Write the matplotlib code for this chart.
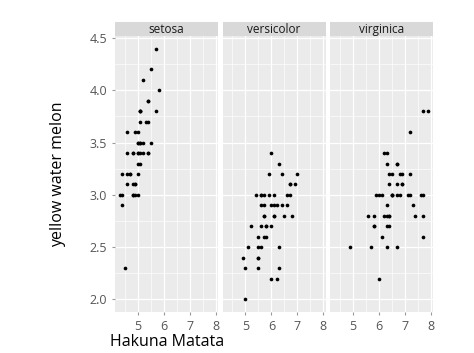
import numpy as np
import matplotlib
matplotlib.use("Agg")
import matplotlib.pyplot as plt

# iris sepal measurements, per species
species = ["setosa", "versicolor", "virginica"]
setosa_len = [5.1, 4.9, 4.7, 4.6, 5.0, 5.4, 4.6, 5.0, 4.4, 4.9, 5.4, 4.8, 4.8, 4.3, 5.8, 5.7, 5.4, 5.1, 5.7, 5.1,
              5.4, 5.1, 4.6, 5.1, 4.8, 5.0, 5.0, 5.2, 5.2, 4.7, 4.8, 5.4, 5.2, 5.5, 4.9, 5.0, 5.5, 4.9, 4.4, 5.1,
              5.0, 4.5, 4.4, 5.0, 5.1, 4.8, 5.1, 4.6, 5.3, 5.0]
setosa_wid = [3.5, 3.0, 3.2, 3.1, 3.6, 3.9, 3.4, 3.4, 2.9, 3.1, 3.7, 3.4, 3.0, 3.0, 4.0, 4.4, 3.9, 3.5, 3.8, 3.8,
              3.4, 3.7, 3.6, 3.3, 3.4, 3.0, 3.4, 3.5, 3.4, 3.2, 3.1, 3.4, 4.1, 4.2, 3.1, 3.2, 3.5, 3.6, 3.0, 3.4,
              3.5, 2.3, 3.2, 3.5, 3.8, 3.0, 3.8, 3.2, 3.7, 3.3]
versicolor_len = [7.0, 6.4, 6.9, 5.5, 6.5, 5.7, 6.3, 4.9, 6.6, 5.2, 5.0, 5.9, 6.0, 6.1, 5.6, 6.7, 5.6, 5.8, 6.2, 5.6,
                  5.9, 6.1, 6.3, 6.1, 6.4, 6.6, 6.8, 6.7, 6.0, 5.7, 5.5, 5.5, 5.8, 6.0, 5.4, 6.0, 6.7, 6.3, 5.6, 5.5,
                  5.5, 6.1, 5.8, 5.0, 5.6, 5.7, 5.7, 6.2, 5.1, 5.7]
versicolor_wid = [3.2, 3.2, 3.1, 2.3, 2.8, 2.8, 3.3, 2.4, 2.9, 2.7, 2.0, 3.0, 2.2, 2.9, 2.9, 3.1, 3.0, 2.7, 2.2, 2.5,
                  3.2, 2.8, 2.5, 2.8, 2.9, 3.0, 2.8, 3.0, 2.9, 2.6, 2.4, 2.4, 2.7, 2.7, 3.0, 3.4, 3.1, 2.3, 3.0, 2.5,
                  2.6, 3.0, 2.6, 2.3, 2.7, 3.0, 2.9, 2.9, 2.5, 2.8]
virginica_len = [6.3, 5.8, 7.1, 6.3, 6.5, 7.6, 4.9, 7.3, 6.7, 7.2, 6.5, 6.4, 6.8, 5.7, 5.8, 6.4, 6.5, 7.7, 7.7, 6.0,
                 6.9, 5.6, 7.7, 6.3, 6.7, 7.2, 6.2, 6.1, 6.4, 7.2, 7.4, 7.9, 6.4, 6.3, 6.1, 7.7, 6.3, 6.4, 6.0, 6.9,
                 6.7, 6.9, 5.8, 6.8, 6.7, 6.7, 6.3, 6.5, 6.2, 5.9]
virginica_wid = [3.3, 2.7, 3.0, 2.9, 3.0, 3.0, 2.5, 2.9, 2.5, 3.6, 3.2, 2.7, 3.0, 2.5, 2.8, 3.2, 3.0, 3.8, 2.6, 2.2,
                 3.2, 2.8, 2.8, 2.7, 3.3, 3.2, 2.8, 3.0, 2.8, 3.0, 2.8, 3.8, 2.8, 2.8, 2.6, 3.0, 3.4, 3.1, 3.0, 3.1,
                 3.1, 3.1, 2.7, 3.2, 3.3, 3.0, 2.5, 3.0, 3.4, 3.0]
x_ticks = [5, 6, 7, 8]
y_ticks = [2.0, 2.5, 3.0, 3.5, 4.0, 4.5]

data = [(setosa_len, setosa_wid), (versicolor_len, versicolor_wid), (virginica_len, virginica_wid)]

W, H = 474, 353
plt.rcParams['font.family'] = ['Open Sans', 'DejaVu Sans']
fig = plt.figure(figsize=(W / 100, H / 100), dpi=100)

left0, pw, gap = 115, 103, 4.5
top_strip, strip_h, bottom = 22, 14, 312

for i, (name, (xs, ys)) in enumerate(zip(species, data)):
    l = left0 + i * (pw + gap)
    ax = fig.add_axes([l / W, 1 - bottom / H, pw / W, (bottom - top_strip - strip_h) / H])
    ax.set_facecolor('#EBEBEB')
    ax.scatter(xs, ys, s=7, color='black', zorder=3, linewidths=0)
    ax.set_xlim(4.12, 8.08)
    ax.set_ylim(1.88, 4.52)
    ax.set_xticks(x_ticks)
    ax.set_yticks(y_ticks)
    ax.set_xticks([4.5, 5.5, 6.5, 7.5], minor=True)
    ax.set_yticks([2.25, 2.75, 3.25, 3.75, 4.25], minor=True)
    ax.grid(which='major', color='white', lw=0.9)
    ax.grid(which='minor', color='white', lw=0.45)
    ax.set_axisbelow(True)
    for s in ax.spines.values():
        s.set_visible(False)
    ax.tick_params(which='major', length=2.5, color='#999999', labelcolor='#555555', labelsize=9, pad=3)
    ax.tick_params(which='minor', length=0)
    if i > 0:
        ax.tick_params(axis='y', labelleft=False, length=0)
    else:
        ax.set_yticklabels([f"{v:.1f}" for v in y_ticks])
    # strip
    sax = fig.add_axes([l / W, 1 - (top_strip + strip_h) / H, pw / W, strip_h / H])
    sax.set_facecolor('#D9D9D9')
    sax.set_xticks([])
    sax.set_yticks([])
    for s in sax.spines.values():
        s.set_visible(False)
    sax.text(0.5, 0.45, name, ha='center', va='center', fontsize=8.5, color='#1a1a1a', transform=sax.transAxes)

fig.text(167 / W, 1 - 342 / H, "Hakuna Matata", ha='center', va='center', fontsize=11.5, color='black')
fig.text(58 / W, 1 - 174 / H, "yellow water melon", ha='center', va='center', rotation=90, fontsize=11.5, color='black')

fig.savefig("out.png", dpi=100)
